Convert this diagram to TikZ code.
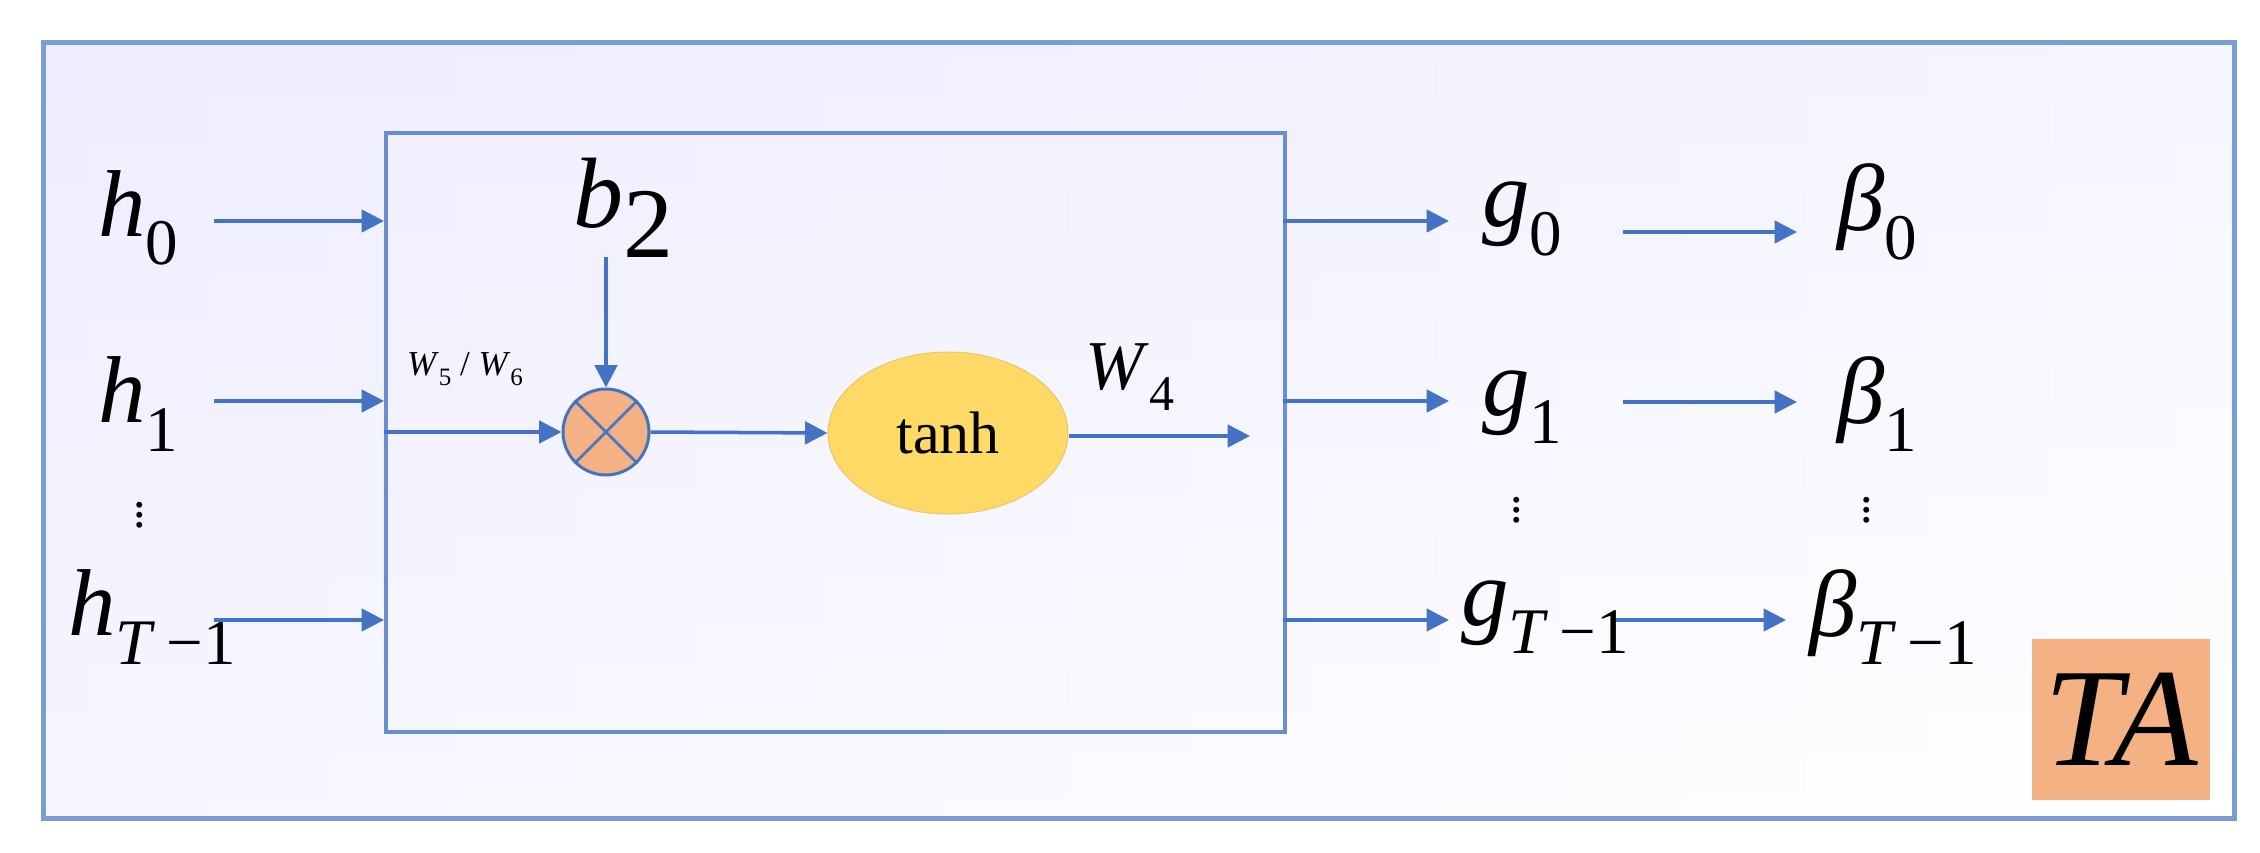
\documentclass[tikz,border=0pt]{standalone}
\usepackage{fontspec}
\setmainfont{Liberation Serif}
\usetikzlibrary{arrows.meta,shapes.geometric}
\definecolor{ln}{HTML}{4472C4}
\definecolor{orng}{HTML}{F4B183}
\definecolor{yel}{HTML}{FFD966}
\newcommand{\symsub}[2]{\textit{#1}\raisebox{-0.3em}{\fontsize{26}{28}\selectfont #2}}
\tikzset{
  conn/.style={draw=ln, line width=1.4pt, -{Triangle[width=9pt,length=9pt]}},
  big/.style={font=\fontsize{38}{40}\selectfont, inner sep=0pt},
  vdots/.style={font=\fontsize{20}{22}\selectfont, inner sep=0pt}
}
\begin{document}
\begin{tikzpicture}[x=0.4pt,y=-0.4pt]
\useasboundingbox (0,0) rectangle (2260,853);
\shade[left color=blue!7, right color=white] (43,42) rectangle (2234,818);
\shade[top color=blue!7, bottom color=white, opacity=0.5] (43,42) rectangle (2234,818);
\draw[ln!70, line width=2pt] (43,42) rectangle (2234,818);
\node[draw=ln!80, line width=1.6pt, minimum width=899*0.4pt, minimum height=599*0.4pt, anchor=north west, inner sep=0pt] (box) at (384,131) {};
% inputs
\node[big] (h0) at (138,218) {\symsub{h}{0}};
\node[big] (h1) at (138,404) {\symsub{h}{1}};
\node[vdots] (hd) at (140,508) {$\vdots$};
\node[big] (hT) at (152,617) {\symsub{h}{\textit{T}\,−1}};
\coordinate (a0s) at (214,221); \coordinate (a0e) at (384,221);
\coordinate (a1s) at (214,401); \coordinate (a1e) at (384,401);
\coordinate (aTs) at (214,620); \coordinate (aTe) at (384,620);
\draw[conn] (a0s) -- (a0e);
\draw[conn] (a1s) -- (a1e);
\draw[conn] (aTs) -- (aTe);
% inner
\node[circle, draw=ln, line width=1.2pt, fill=orng, minimum size=86*0.4pt, inner sep=0pt] (mul) at (606,432) {};
\draw[ln, line width=1pt] (mul.45) -- (mul.225) (mul.135) -- (mul.315);
\node[font=\fontsize{40}{42}\selectfont, inner sep=0pt] (b2) at (623,208) {\symsub{b}{\fontsize{40}{42}\selectfont 2}};
\coordinate (b2s) at (606,257);
\draw[conn] (b2s) -- (mul.north);
\coordinate (wl) at (384,432);
\draw[conn] (wl) -- (mul.west);
\node[font=\fontsize{14}{16}\selectfont, inner sep=0pt] (w56) at (465,369) {\textit{W}\raisebox{-0.3em}{\fontsize{10}{12}\selectfont 5} / \textit{W}\raisebox{-0.3em}{\fontsize{10}{12}\selectfont 6}};
\node[ellipse, draw=yel!80!gray, fill=yel, minimum width=240*0.4pt, minimum height=162*0.4pt, inner sep=0pt, font=\fontsize{24}{26}\selectfont] (tanh) at (948,433) {tanh};
\draw[conn] (mul.east) -- (tanh.west);
\coordinate (w4e) at (1250,436);
\draw[conn] (tanh.east |- w4e) -- (w4e);
\node[font=\fontsize{28}{30}\selectfont, inner sep=0pt] (w4) at (1130,377) {\textit{W}\raisebox{-0.3em}{\fontsize{20}{22}\selectfont 4}};
% outputs g
\node[big] (g0) at (1522,219) {\symsub{g}{0}};
\node[big] (g1) at (1522,407) {\symsub{g}{1}};
\node[vdots] (gd) at (1517,503) {$\vdots$};
\node[big] (gT) at (1545,617) {\symsub{g}{\textit{T}\,−1}};
\coordinate (o0s) at (1283,221); \coordinate (o0e) at (1449,221);
\coordinate (o1s) at (1283,401); \coordinate (o1e) at (1449,401);
\coordinate (oTs) at (1283,620); \coordinate (oTe) at (1449,620);
\draw[conn] (o0s) -- (o0e);
\draw[conn] (o1s) -- (o1e);
\draw[conn] (oTs) -- (oTe);
% betas
\node[big] (be0) at (1877,212) {\symsub{β}{0}};
\node[big] (be1) at (1877,404) {\symsub{β}{1}};
\node[vdots] (bd) at (1867,503) {$\vdots$};
\node[big] (beT) at (1893,617) {\symsub{β}{\textit{T}\,−1}};
\coordinate (p0s) at (1623,232); \coordinate (p0e) at (1797,232);
\coordinate (p1s) at (1623,402); \coordinate (p1e) at (1797,402);
\coordinate (pTs) at (1616,620); \coordinate (pTe) at (1786,620);
\draw[conn] (p0s) -- (p0e);
\draw[conn] (p1s) -- (p1e);
\draw[conn] (pTs) -- (pTe);
% TA
\node[fill=orng, minimum width=178*0.4pt, minimum height=161*0.4pt, inner sep=0pt, font=\fontsize{56}{58}\selectfont\itshape] (ta) at (2121,719) {TA};
\end{tikzpicture}
\end{document}
